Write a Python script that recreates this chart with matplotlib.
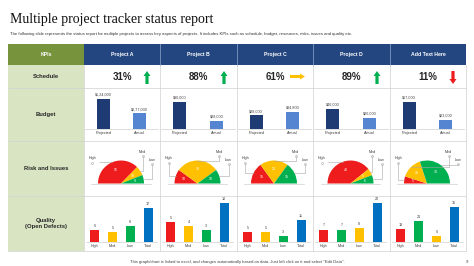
import numpy as np
import matplotlib
matplotlib.use("Agg")
import matplotlib.pyplot as plt
from matplotlib.patches import Rectangle, FancyArrow

plt.rcParams['font.family'] = ['Liberation Sans', 'DejaVu Sans']

# ---- data ----
projects = ['Project A', 'Project B', 'Project C', 'Project D', 'Add Text Here']
kpis = ['Schedule', 'Budget', 'Risk and Issues', 'Quality\n(Open Defects)']

schedule = [31, 88, 61, 89, 11]
trend = ['up', 'up', 'flat', 'up', 'down']

budget_cats = ['Projected', 'Actual']
budget_projected = [524000, 90000, 28000, 46000, 67000]
budget_actual = [277000, 28000, 34800, 26000, 23000]
budget_labels = [('$5,24,000', '$2,77,000'), ('$90,000', '$28,000'), ('$28,000', '$34,800'),
                 ('$46,000', '$26,000'), ('$67,000', '$23,000')]
budget_top = [576000, 110000, 67500, 76000, 82000]

risk_high = [56, 10, 15, 40, 5]
risk_med = [10, 30, 20, 5, 15]
risk_low = [9, 10, 15, 6, 30]

defect_cats = ['High', 'Med', 'Low', 'Total']
defects_high = [6, 5, 5, 7, 13]
defects_med = [5, 4, 5, 7, 21]
defects_low = [8, 3, 3, 8, 6]
defects_total = [17, 10, 11, 22, 35]
defect_top = [20, 10.2, 20, 22.4, 40]

RED, YEL, GRN, BLU = '#EE1C1C', '#FFC000', '#00B050', '#0070C0'
defect_colors = [[RED, YEL, GRN, BLU], [RED, YEL, GRN, BLU], [RED, YEL, GRN, BLU],
                 [RED, GRN, YEL, BLU], [RED, GRN, YEL, BLU]]

# ---- layout ----
W, H = 474, 266
fig = plt.figure(figsize=(4.74, 2.66), dpi=100)
ax0 = fig.add_axes([0, 0, 1, 1])
ax0.set_xlim(0, W)
ax0.set_ylim(H, 0)
ax0.axis('off')


def px_axes(x, y, w, h):
    return fig.add_axes([x / W, 1 - (y + h) / H, w / W, h / H])


cols = [8, 84, 160, 237, 313, 390, 466]
rows = [44, 65, 88, 141, 196, 251]
grid_c = '#D0D0D0'
navy = '#234680'

ax0.text(10, 22.5, 'Multiple project tracker status report', family='Liberation Serif',
         fontsize=10, va='baseline', color='#111111')
ax0.text(10, 35, 'The following slide represents the status report for multiple projects to assess key '
         'aspects of projects. It includes KPIs such as schedule, budget, resources, risks, issues and quality etc.',
         fontsize=3.1, va='baseline', color='#333333')

# header row
ax0.add_patch(Rectangle((cols[0], rows[0]), cols[1] - cols[0], rows[1] - rows[0], color='#77933C', lw=0))
ax0.text((cols[0] + cols[1]) / 2, (rows[0] + rows[1]) / 2, 'KPIs', color='white', fontsize=3.7,
         weight='bold', ha='center', va='center')
for i, p in enumerate(projects):
    ax0.add_patch(Rectangle((cols[i + 1], rows[0]), cols[i + 2] - cols[i + 1], rows[1] - rows[0],
                            color=navy, lw=0))
    ax0.text((cols[i + 1] + cols[i + 2]) / 2, (rows[0] + rows[1]) / 2, p, color='white', fontsize=3.7,
             weight='bold', ha='center', va='center')
    if i > 0:
        ax0.plot([cols[i + 1]] * 2, [rows[0], rows[1]], color='#7F97C2', lw=0.6)

# kpi column + cell grid
for r, k in enumerate(kpis):
    ax0.add_patch(Rectangle((cols[0], rows[r + 1]), cols[1] - cols[0], rows[r + 2] - rows[r + 1],
                            color='#D9E4C3', lw=0))
    ax0.text((cols[0] + cols[1]) / 2, (rows[r + 1] + rows[r + 2]) / 2, k, fontsize=4.2, weight='bold',
             ha='center', va='center', color='#262626', linespacing=1.3)
for y in rows[2:]:
    ax0.plot([cols[0], cols[-1]], [y, y], color=grid_c, lw=0.5)
for x in cols[1:]:
    ax0.plot([x, x], [rows[1], rows[-1]], color=grid_c, lw=0.5)

# schedule row
for i in range(5):
    cx = (cols[i + 1] + cols[i + 2]) / 2
    ax0.text(cx, 76.5, f'{schedule[i]}%', fontsize=7, weight='bold', ha='center', va='center',
             color='#262626')
    ax_r = cols[i + 2] - 13
    if trend[i] == 'up':
        ax0.add_patch(FancyArrow(ax_r, 84, 0, -13, width=3.2, head_width=7, head_length=5,
                                 length_includes_head=True, color=GRN, lw=0))
    elif trend[i] == 'down':
        ax0.add_patch(FancyArrow(ax_r, 71, 0, 13, width=3.2, head_width=7, head_length=5,
                                 length_includes_head=True, color=RED, lw=0))
    else:
        ax0.add_patch(FancyArrow(ax_r - 10, 76.5, 15, 0, width=3, head_width=6, head_length=5,
                                 length_includes_head=True, color=YEL, lw=0))

# budget row
for i in range(5):
    ax = px_axes(cols[i + 1] + 1, 96, cols[i + 2] - cols[i + 1] - 3, 33)
    vals = [budget_projected[i], budget_actual[i]]
    bars = ax.bar(budget_cats, vals, width=0.35, color=['#1F3B73', '#5585D0'])
    ax.set_ylim(0, budget_top[i])
    ax.set_xlim(-0.5, 1.5)
    for b, lab in zip(bars, budget_labels[i]):
        ax.annotate(lab, (b.get_x() + b.get_width() / 2, b.get_height()), xytext=(0, 1.5),
                    textcoords='offset points', ha='center', va='bottom', fontsize=2.7, color='#404040')
    for s in ['top', 'left', 'right']:
        ax.spines[s].set_visible(False)
    ax.spines['bottom'].set_color(grid_c)
    ax.spines['bottom'].set_linewidth(0.5)
    ax.set_yticks([])
    ax.tick_params(axis='x', length=0, pad=1.5, labelsize=2.8, labelcolor='#404040')
    ax.patch.set_alpha(0)

# risk row
R = 23
for i in range(5):
    cx = (cols[i + 1] + cols[i + 2]) / 2 - 1
    by = 183.5
    ax = px_axes(cx - 38, by - 40, 76, 46)
    vals = [risk_high[i], risk_med[i], risk_low[i]]
    wedges, _ = ax.pie(vals + [sum(vals)], colors=[RED, YEL, GRN, 'none'], startangle=180,
                       counterclock=False, radius=1, wedgeprops=dict(linewidth=0))
    wedges[3].set_visible(False)
    ax.set_xlim(-38 / R, 38 / R)
    ax.set_ylim(-6 / R, 40 / R)
    ax.plot([-1.3, 1.3], [0, 0], color=grid_c, lw=0.5)
    label_pos = [(-1.25, 1.0), (0.95, 1.3), (1.35, 0.95)]
    for w, v, name, (lx, ly) in zip(wedges[:3], vals, ['High', 'Med', 'Low'], label_pos):
        a = np.deg2rad((w.theta1 + w.theta2) / 2)
        ax.text(0.62 * np.cos(a), 0.62 * np.sin(a), str(v), color='white', fontsize=2.6,
                ha='center', va='center')
        ax.annotate(name, xy=(np.cos(a), np.sin(a)), xytext=(lx, ly), fontsize=2.7, color='#404040',
                    ha='center', va='bottom',
                    arrowprops=dict(arrowstyle='-', color='#A6A6A6', lw=0.4, shrinkA=0, shrinkB=0,
                                    connectionstyle='angle,angleA=90,angleB=0,rad=0'))
        ax.plot(lx, ly - 0.1, 'o', ms=1.4, mfc='white', mec='#A6A6A6', mew=0.4)
    ax.patch.set_alpha(0)

# quality row
for i in range(5):
    ax = px_axes(cols[i + 1] + 2, 202, 71, 40)
    vals = [defects_high[i], defects_med[i], defects_low[i], defects_total[i]]
    bars = ax.bar(defect_cats, vals, width=0.5, color=defect_colors[i])
    ax.set_ylim(0, defect_top[i])
    ax.set_xlim(-0.5, 3.5)
    for b, v in zip(bars, vals):
        ax.annotate(str(v), (b.get_x() + b.get_width() / 2, b.get_height()), xytext=(0, 1.5),
                    textcoords='offset points', ha='center', va='bottom', fontsize=2.7, color='#404040')
    for s in ['top', 'left', 'right']:
        ax.spines[s].set_visible(False)
    ax.spines['bottom'].set_color(grid_c)
    ax.spines['bottom'].set_linewidth(0.5)
    ax.set_yticks([])
    ax.tick_params(axis='x', length=0, pad=1.5, labelsize=2.7, labelcolor='#404040')
    ax.patch.set_alpha(0)

ax0.text(237, 262, 'This graph/chart is linked to excel, and changes automatically based on data. '
         'Just left click on it and select "Edit Data".', fontsize=3.0, ha='center', va='center',
         color='#404040')
ax0.text(467, 262, '9', fontsize=3.0, ha='center', va='center', color='#404040')

fig.savefig('out.png', dpi=100)
